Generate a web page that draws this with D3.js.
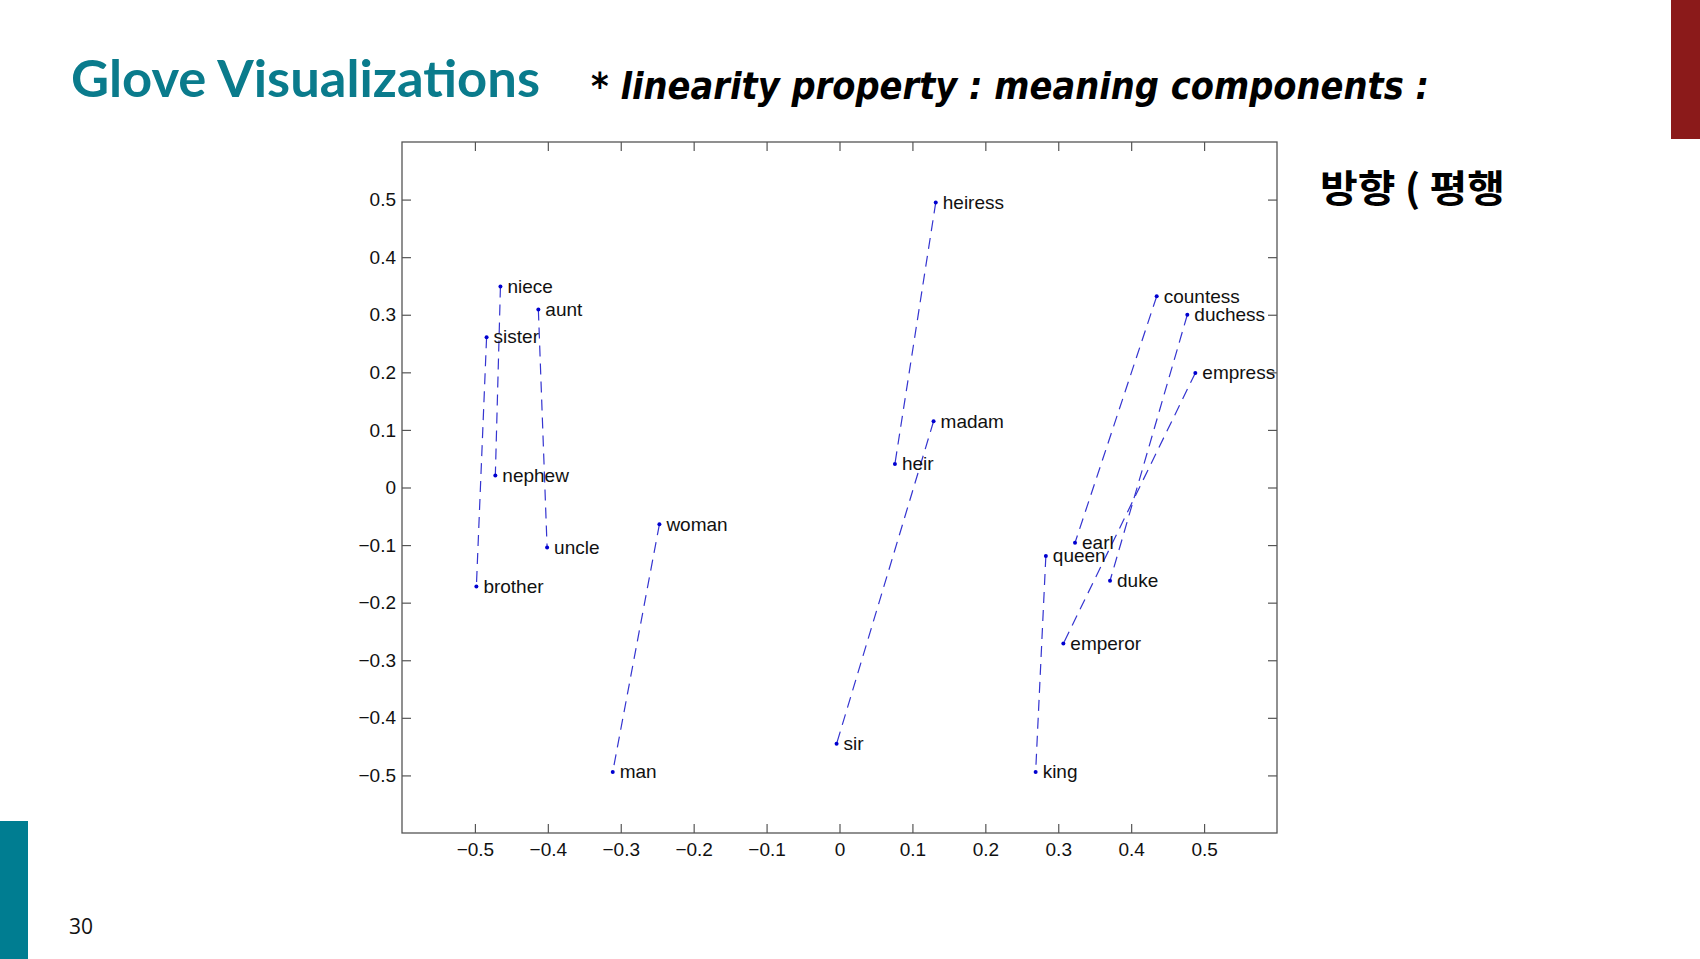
<!DOCTYPE html>
<html>
<head>
<meta charset="utf-8">
<script src="https://cdn.jsdelivr.net/npm/d3@7"></script>
<style>
  body { margin:0; background:#fff; }
  svg { display:block; }
</style>
</head>
<body>
<svg id="chart" width="1700" height="959"></svg>
<script>

// word positions
var words = ["niece","aunt","sister","nephew","uncle","brother","woman","man",
             "heiress","madam","heir","sir",
             "countess","duchess","empress","earl","queen","duke","emperor","king"];
var xVals = [-0.465,-0.413,-0.484,-0.472,-0.401,-0.498,-0.247,-0.311,
             0.132,0.129,0.076,-0.004,
             0.435,0.477,0.488,0.323,0.283,0.371,0.307,0.269];
var yVals = [0.349,0.309,0.261,0.021,-0.104,-0.172,-0.064,-0.494,
             0.495,0.115,0.041,-0.445,
             0.332,0.300,0.199,-0.096,-0.119,-0.162,-0.271,-0.494];

// female -> male pairs joined with dashes
var pairFrom = ["sister","niece","aunt","woman","heiress","madam","countess","duchess","empress","queen"];
var pairTo   = ["brother","nephew","uncle","man","heir","sir","earl","duke","emperor","king"];

var tickVals = [-0.5,-0.4,-0.3,-0.2,-0.1,0,0.1,0.2,0.3,0.4,0.5];

var svg = d3.select("#chart");

// slide decoration
svg.append("rect").attr("x",1671).attr("y",0).attr("width",29).attr("height",139).style("fill","#8b1a1a");
svg.append("rect").attr("x",0).attr("y",821).attr("width",28).attr("height",138).style("fill","#007d91");

svg.append("text")
    .attr("x",71).attr("y",97)
    .attr("textLength",469).attr("lengthAdjust","spacingAndGlyphs")
    .style("font-family","Lato, 'Open Sans', sans-serif")
    .style("font-weight","bold").style("font-size","51px")
    .style("fill","#0a7b8c")
    .text("Glove Visualizations");

svg.append("text")
    .attr("x",69).attr("y",934)
    .style("font-family","'Open Sans', sans-serif").style("font-size","21px")
    .style("fill","#111")
    .text("30");

// handwritten notes
svg.append("text")
    .attr("x",591).attr("y",99)
    .attr("textLength",838).attr("lengthAdjust","spacingAndGlyphs")
    .style("font-family","'DejaVu Sans', sans-serif").style("font-style","italic")
    .style("font-weight","bold").style("font-size","38px").style("fill","#000")
    .text("* linearity property : meaning components :");

svg.append("text")
    .attr("x",1320).attr("y",202)
    .attr("textLength",185).attr("lengthAdjust","spacingAndGlyphs")
    .style("font-family","'Noto Sans CJK KR', sans-serif")
    .style("font-weight","bold").style("font-size","38px").style("fill","#000")
    .text("방향 ( 평행");

// plot box
var pLeft = 402, pRight = 1277, pTop = 142, pBottom = 833;

var xScale = d3.scaleLinear().domain([-0.6,0.6]).range([pLeft,pRight]);
var yScale = d3.scaleLinear().domain([-0.6,0.6]).range([pBottom,pTop]);

function fmt(d){ return d === 0 ? "0" : d3.format(".1f")(d); }

var g = svg.append("g").attr("id","plot");

var xAxis = d3.axisBottom(xScale).tickValues(tickVals).tickFormat(fmt).tickSizeInner(-9).tickSizeOuter(0).tickPadding(10);
var yAxis = d3.axisLeft(yScale).tickValues(tickVals).tickFormat(fmt).tickSizeInner(-9).tickSizeOuter(0).tickPadding(6);
var xTop = d3.axisTop(xScale).tickValues(tickVals).tickFormat("").tickSizeInner(-9).tickSizeOuter(0);
var yRight = d3.axisRight(yScale).tickValues(tickVals).tickFormat("").tickSizeInner(-9).tickSizeOuter(0);

var ax = [
  g.append("g").attr("transform",`translate(0, ${pBottom})`).call(xAxis),
  g.append("g").attr("transform",`translate(${pLeft}, 0)`).call(yAxis),
  g.append("g").attr("transform",`translate(0, ${pTop})`).call(xTop),
  g.append("g").attr("transform",`translate(${pRight}, 0)`).call(yRight)
];
ax.forEach(a=>{
    a.select(".domain").remove();
    a.selectAll(".tick line").attr("stroke","#555").attr("stroke-width",1.2);
    a.selectAll(".tick text")
      .attr("fill","#111")
      .style("font-family","'Liberation Sans', Arial, sans-serif")
      .style("font-size","19px");
});

g.append("rect")
    .attr("x",pLeft).attr("y",pTop)
    .attr("width",pRight-pLeft).attr("height",pBottom-pTop)
    .style("fill","none").style("stroke","#555").style("stroke-width",1.3);

var idx = {};
words.forEach((w,i)=>{ idx[w]=i; });

g.selectAll("line.pair")
  .data(pairFrom)
  .enter()
  .append("line")
    .attr("class","pair")
    .attr("x1", d=>xScale(xVals[idx[d]]))
    .attr("y1", d=>yScale(yVals[idx[d]]))
    .attr("x2", (d,i)=>xScale(xVals[idx[pairTo[i]]]))
    .attr("y2", (d,i)=>yScale(yVals[idx[pairTo[i]]]))
    .style("stroke","#3434d0")
    .style("stroke-width",1.2)
    .style("stroke-dasharray","11,7");

g.selectAll("circle.pt")
  .data(words)
  .enter()
  .append("circle")
    .attr("class","pt")
    .attr("cx",(d,i)=>xScale(xVals[i]))
    .attr("cy",(d,i)=>yScale(yVals[i]))
    .attr("r",2)
    .style("fill","#0000d0");

g.selectAll("text.word")
  .data(words)
  .enter()
  .append("text")
    .attr("class","word")
    .attr("x",(d,i)=>xScale(xVals[i]) + 7)
    .attr("y",(d,i)=>yScale(yVals[i]))
    .attr("dy","0.33em")
    .style("font-family","'Liberation Sans', Arial, sans-serif")
    .style("font-size","19px")
    .style("fill","#111")
    .text(d=>d);

</script>
</body>
</html>
